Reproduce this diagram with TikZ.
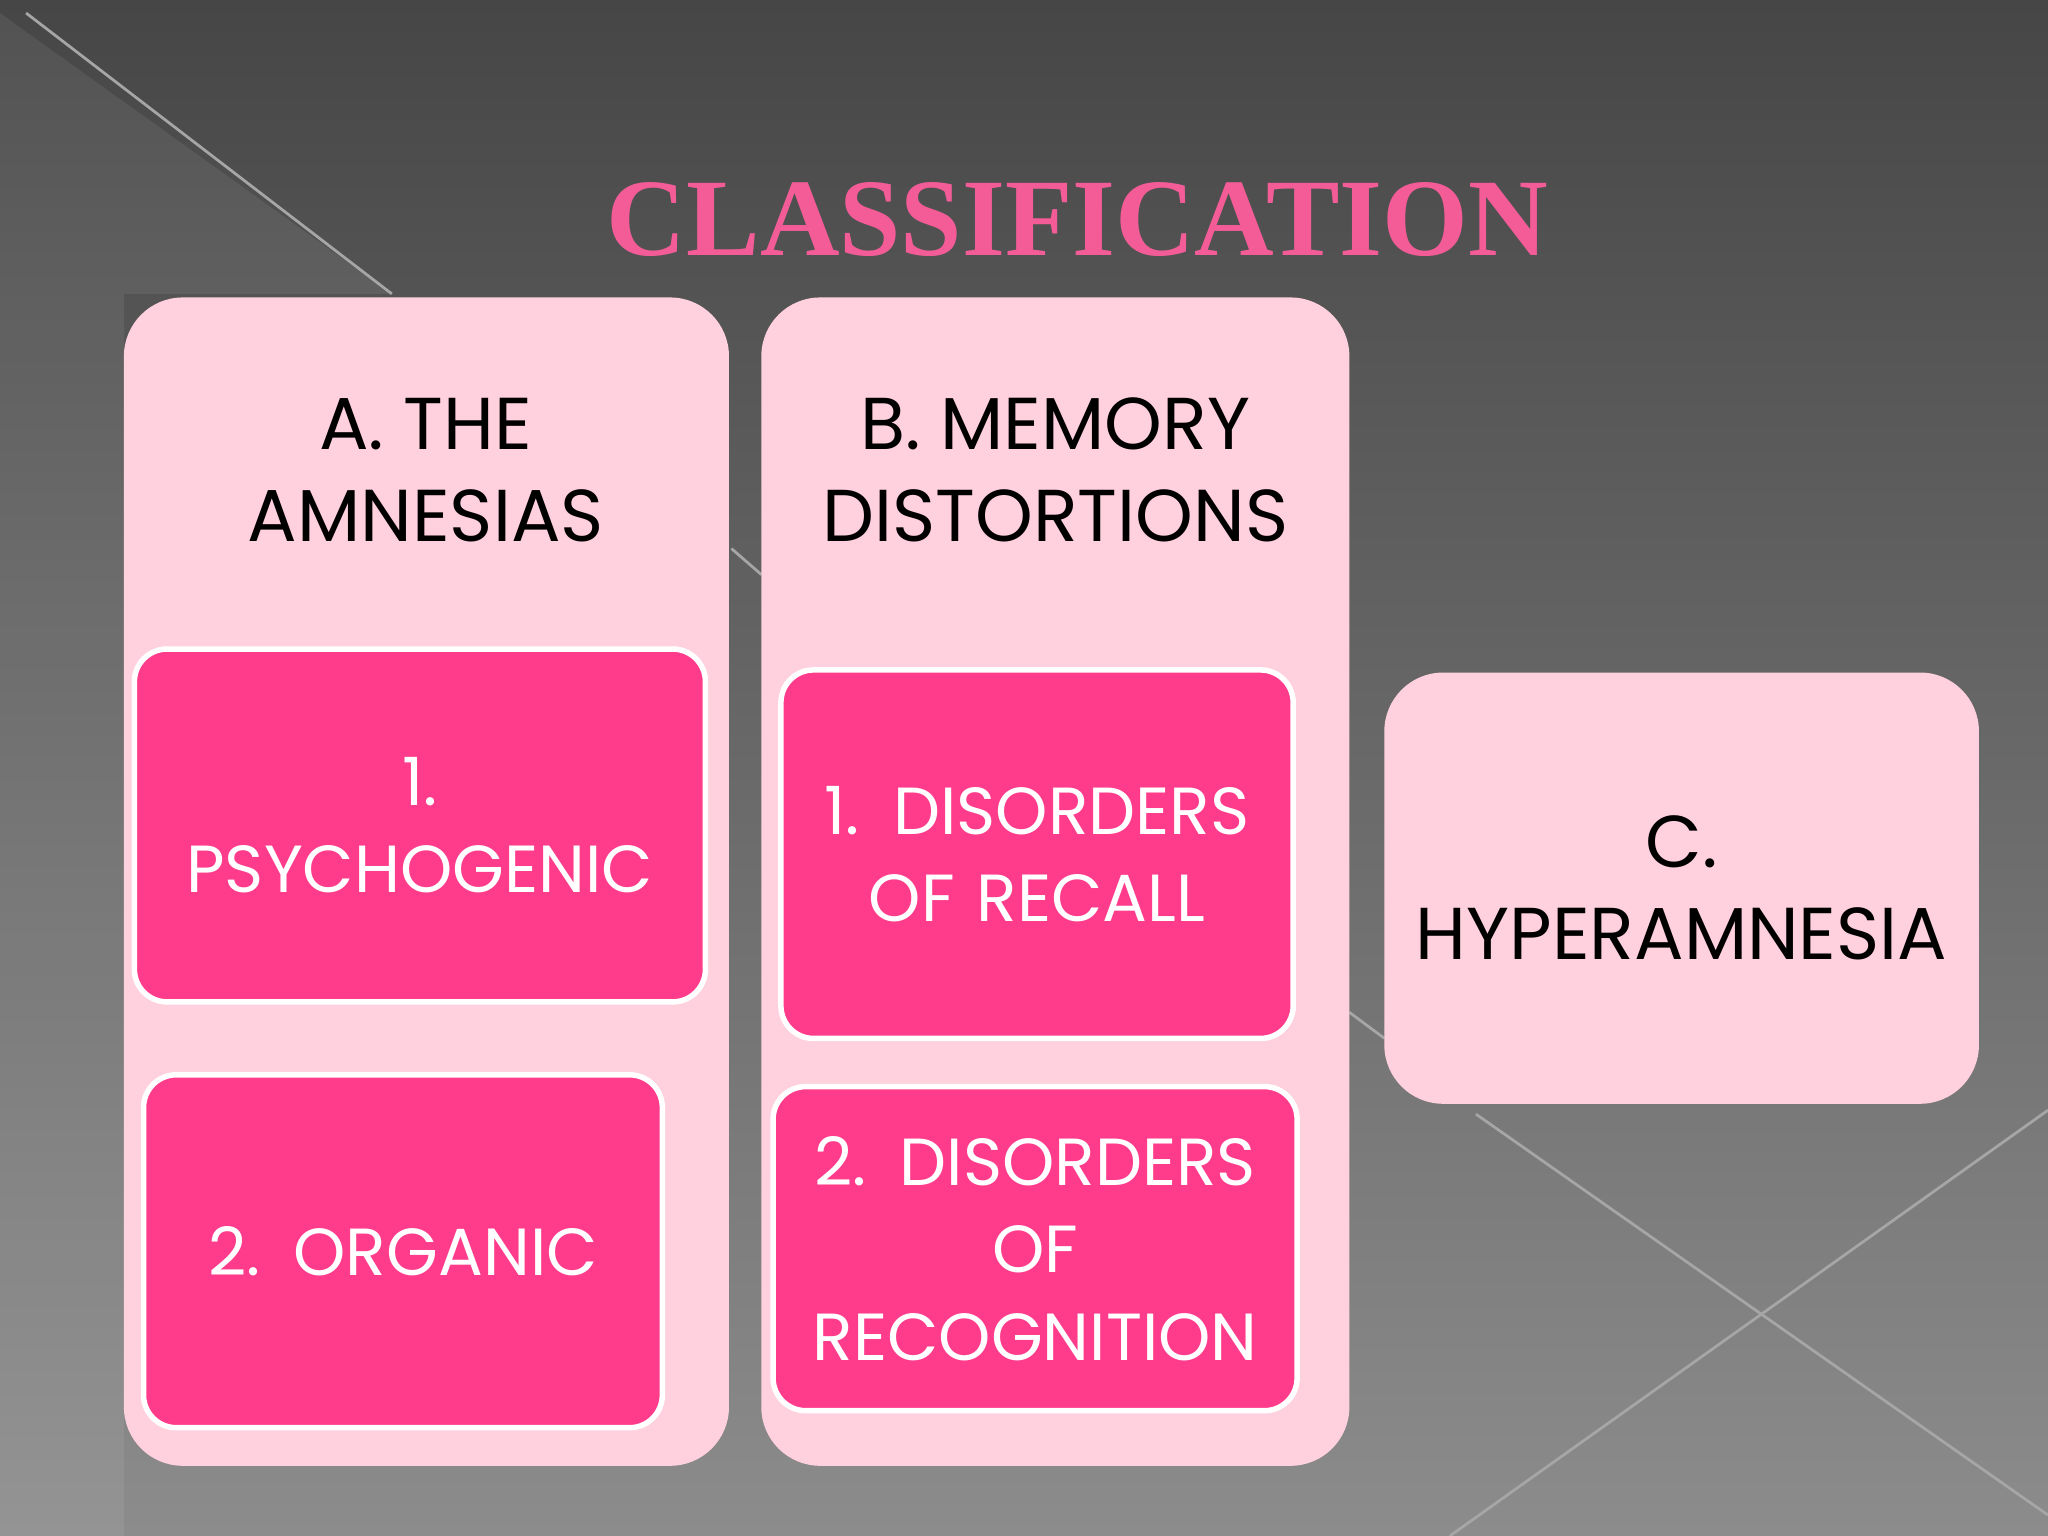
\documentclass[tikz,border=0pt]{standalone}
\usepackage{fontspec}
\setmainfont{Poppins}
\newfontfamily\titlefont{Liberation Serif}
\usetikzlibrary{positioning}
\definecolor{lpink}{HTML}{FFD0DE}
\definecolor{hpink}{HTML}{FF3B8B}
\definecolor{tpink}{HTML}{F45C98}
\tikzset{
 outerbox/.style={fill=lpink, rounded corners=0.45cm, inner sep=0pt},
 innerbox/.style={fill=hpink, draw=white, line width=1.2pt, rounded corners=0.25cm, inner sep=0pt, text=white, font=\fontsize{14.5}{19}\selectfont, align=center, text width=3.9cm},
 headtxt/.style={font=\fontsize{16}{20}\selectfont, align=center, text=black}
}
\begin{document}
\begin{tikzpicture}[x=0.01cm,y=-0.01cm]
\useasboundingbox (0,0) rectangle (1568,1176);
\shade[top color={rgb,255:red,70;green,70;blue,70}, bottom color={rgb,255:red,140;green,140;blue,140}] (0,0) rectangle (1568,1176);
\fill[white,opacity=0.07] (0,10) -- (300,225) -- (95,225) -- (95,1176) -- (0,1176) -- cycle;
\draw[gray!70,line width=0.6pt] (20,10) -- (300,225);
\draw[gray!70,line width=0.6pt] (560,420) -- (583,440);
\draw[gray!70,line width=0.6pt] (1033,775) -- (1060,795);
\draw[gray!70,line width=0.6pt] (1130,853) -- (1568,1160);
\draw[gray!70,line width=0.6pt] (1110,1176) -- (1568,850);
\node[text=tpink, draw=none, font=\titlefont\bfseries\fontsize{24}{28}\selectfont] (title) at (825,168) {CLASSIFICATION};
\node[outerbox, minimum width=4.63cm, minimum height=8.94cm] (A) at (326.5,675) {};
\node[outerbox, minimum width=4.50cm, minimum height=8.94cm] (B) at (808,675) {};
\node[outerbox, minimum width=4.55cm, minimum height=3.30cm, headtxt, text width=4.3cm] (C) at (1287.5,680) {C.\\HYPERAMNESIA};
\node[headtxt] (Ah) at (326,360) {A. THE\\AMNESIAS};
\node[headtxt] (Bh) at (808,360) {B. MEMORY\\DISTORTIONS};
\node[innerbox, minimum width=4.37cm, minimum height=2.70cm] (A1) at (321.5,632) {1.\\PSYCHOGENIC};
\node[innerbox, minimum width=3.97cm, minimum height=2.70cm] (A2) at (308.5,958) {2. ORGANIC};
\node[innerbox, minimum width=3.92cm, minimum height=2.82cm] (B1) at (794,654) {1. DISORDERS\\OF RECALL};
\node[innerbox, minimum width=4.01cm, minimum height=2.48cm] (B2) at (792.5,956) {2. DISORDERS\\OF\\RECOGNITION};
\end{tikzpicture}
\end{document}
